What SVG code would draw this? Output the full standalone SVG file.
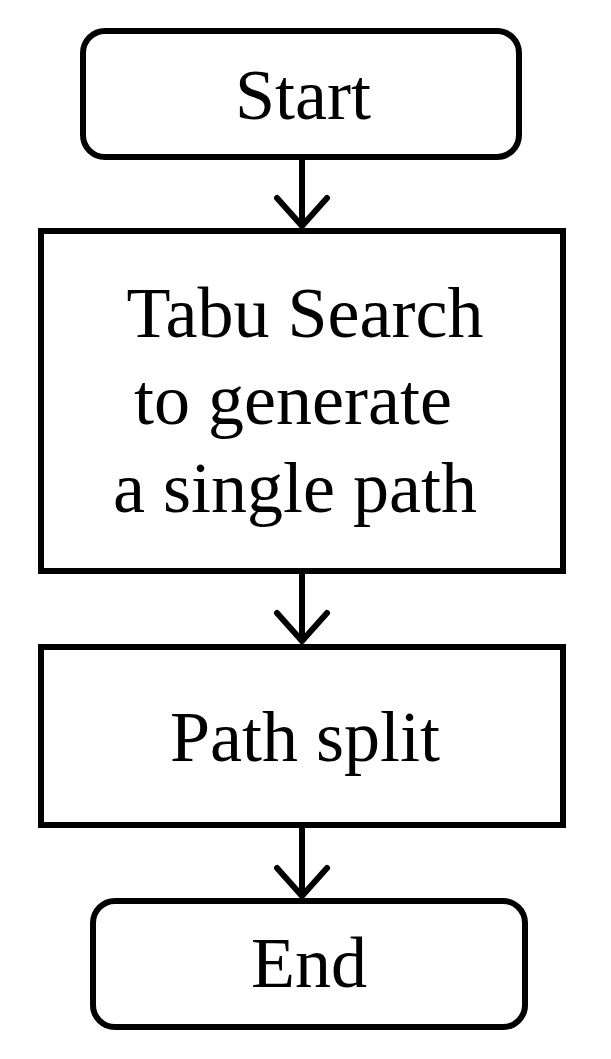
<svg xmlns="http://www.w3.org/2000/svg" width="611" height="1059" viewBox="0 0 611 1059">
<style>
.n{fill:#fff;stroke:#000;stroke-width:6}
.t{font-family:"Liberation Serif",serif;font-size:72px;text-anchor:middle;fill:#000}
.c{fill:none;stroke:#000;stroke-width:6;stroke-linecap:round;stroke-linejoin:round}
</style>
<rect width="611" height="1059" fill="#fff"/>
<g id="connectors">
<path class="c" d="M302 160V226M277 198L302 226L327 198"/>
<path class="c" d="M302 573V641M277 613L302 641L327 613"/>
<path class="c" d="M302 828V896M277 868L302 896L327 868"/>
</g>
<g id="start"><rect class="n" x="83" y="31" width="436" height="126" rx="22"/><text class="t" x="303" y="119">Start</text></g>
<g id="tabu"><rect class="n" x="41" y="231" width="522" height="340"/>
<text class="t" x="305" y="337">Tabu Search</text><text class="t" x="293" y="424">to generate</text><text class="t" x="295" y="512">a single path</text></g>
<g id="split"><rect class="n" x="41" y="647" width="522" height="178"/><text class="t" x="305" y="761">Path split</text></g>
<g id="end"><rect class="n" x="93" y="901" width="432" height="126" rx="22"/><text class="t" x="309" y="987">End</text></g>
</svg>
